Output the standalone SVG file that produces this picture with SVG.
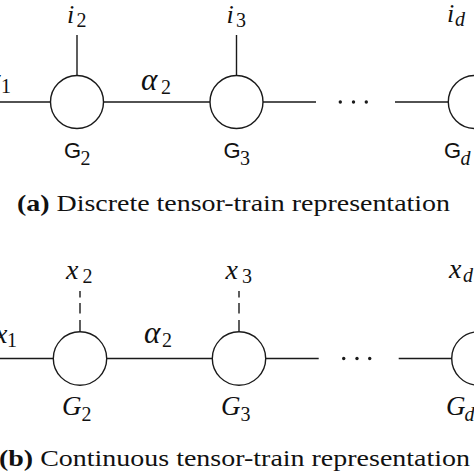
<svg xmlns="http://www.w3.org/2000/svg" width="474" height="474" viewBox="0 0 474 474">
<style>
.node{fill:#fff;stroke:#1a1a1a;stroke-width:1.4}
.edge{stroke:#1a1a1a;stroke-width:1.4;fill:none}
.dot{fill:#1a1a1a}
.m{font-family:"Liberation Serif","Times New Roman",serif;font-style:italic;font-size:28px;fill:#111}
.il{font-size:26px}
.al{font-size:31px}
.gi{font-size:27px}
.sub{font-family:"Liberation Serif","Times New Roman",serif;font-style:normal;font-size:20px}
.subi{font-family:"Liberation Serif","Times New Roman",serif;font-style:italic;font-size:20px}
.sans{font-family:"Liberation Sans",Arial,sans-serif;font-size:22px;fill:#111}
.cap{font-family:"Liberation Serif","Times New Roman",serif;font-size:24px;fill:#111}
.b{font-weight:bold}
</style>
<rect width="474" height="474" fill="#fff"/>
<g id="connectors">
<path class="edge" d="M0 102H50.5M103.5 102H210M263 102H316M395 102H448.3M77 35V75.5M236.5 35V75.5"/>
<circle class="dot" cx="340.3" cy="102" r="1.7"/><circle class="dot" cx="353.5" cy="102" r="1.7"/><circle class="dot" cx="366.3" cy="102" r="1.7"/>
<path class="edge" d="M0 358.5H53.3M106.7 358.5H212.3M265.7 358.5H318.7M398.7 358.5H451.7"/>
<path class="edge" d="M80 291V297.5M80 303V313.5M80 320V331.8M239 291V297.5M239 303V313.5M239 320V331.8"/>
<circle class="dot" cx="343.7" cy="358.5" r="1.7"/><circle class="dot" cx="357" cy="358.5" r="1.7"/><circle class="dot" cx="369.7" cy="358.5" r="1.7"/>
</g>
<g id="edge-labels">
<text class="m al" x="-16" y="90">α<tspan class="sub" x="1" y="93">1</tspan></text>
<text class="m al" x="141" y="90">α<tspan class="sub" x="161" y="94">2</tspan></text>
<text class="m il" x="67" y="23">i<tspan class="sub" x="76.5" y="27">2</tspan></text>
<text class="m il" x="226.5" y="23">i<tspan class="sub" x="236" y="27">3</tspan></text>
<text class="m il" x="447" y="22">i<tspan class="subi" x="455" y="26">d</tspan></text>
<text class="m" x="-5" y="343">x<tspan class="sub" x="7" y="347">1</tspan></text>
<text class="m al" x="144" y="343">α<tspan class="sub" x="162" y="347">2</tspan></text>
<text class="m" x="66" y="279">x<tspan class="sub" x="82.5" y="283">2</tspan></text>
<text class="m" x="225.5" y="279">x<tspan class="sub" x="242" y="283">3</tspan></text>
<text class="m" x="449" y="278">x<tspan class="subi" x="463" y="282">d</tspan></text>
</g>
<g id="node-G2a"><circle class="node" cx="77" cy="102" r="26.5"/><text class="sans" x="64" y="158">G<tspan class="sub" x="80.5" y="165">2</tspan></text></g>
<g id="node-G3a"><circle class="node" cx="236.5" cy="102" r="26.5"/><text class="sans" x="223.5" y="158">G<tspan class="sub" x="240" y="165">3</tspan></text></g>
<g id="node-Gda"><circle class="node" cx="474.8" cy="102" r="26.5"/><text class="sans" x="444" y="158">G<tspan class="subi" x="460.5" y="165">d</tspan></text></g>
<g id="node-G2b"><circle class="node" cx="80" cy="358.5" r="26.7"/><text class="m gi" x="62" y="415">G<tspan class="sub" x="81.5" y="421">2</tspan></text></g>
<g id="node-G3b"><circle class="node" cx="239" cy="358.5" r="26.7"/><text class="m gi" x="221" y="415">G<tspan class="sub" x="240.5" y="421">3</tspan></text></g>
<g id="node-Gdb"><circle class="node" cx="478.4" cy="358.5" r="26.7"/><text class="m gi" x="446" y="415">G<tspan class="subi" x="464.5" y="421">d</tspan></text></g>
<g id="captions">
<text class="cap" x="17" y="211" textLength="433" lengthAdjust="spacingAndGlyphs"><tspan class="b">(a)</tspan> Discrete tensor-train representation</text>
<text class="cap" x="-1" y="466" textLength="471" lengthAdjust="spacingAndGlyphs"><tspan class="b">(b)</tspan> Continuous tensor-train representation</text>
</g>
</svg>
